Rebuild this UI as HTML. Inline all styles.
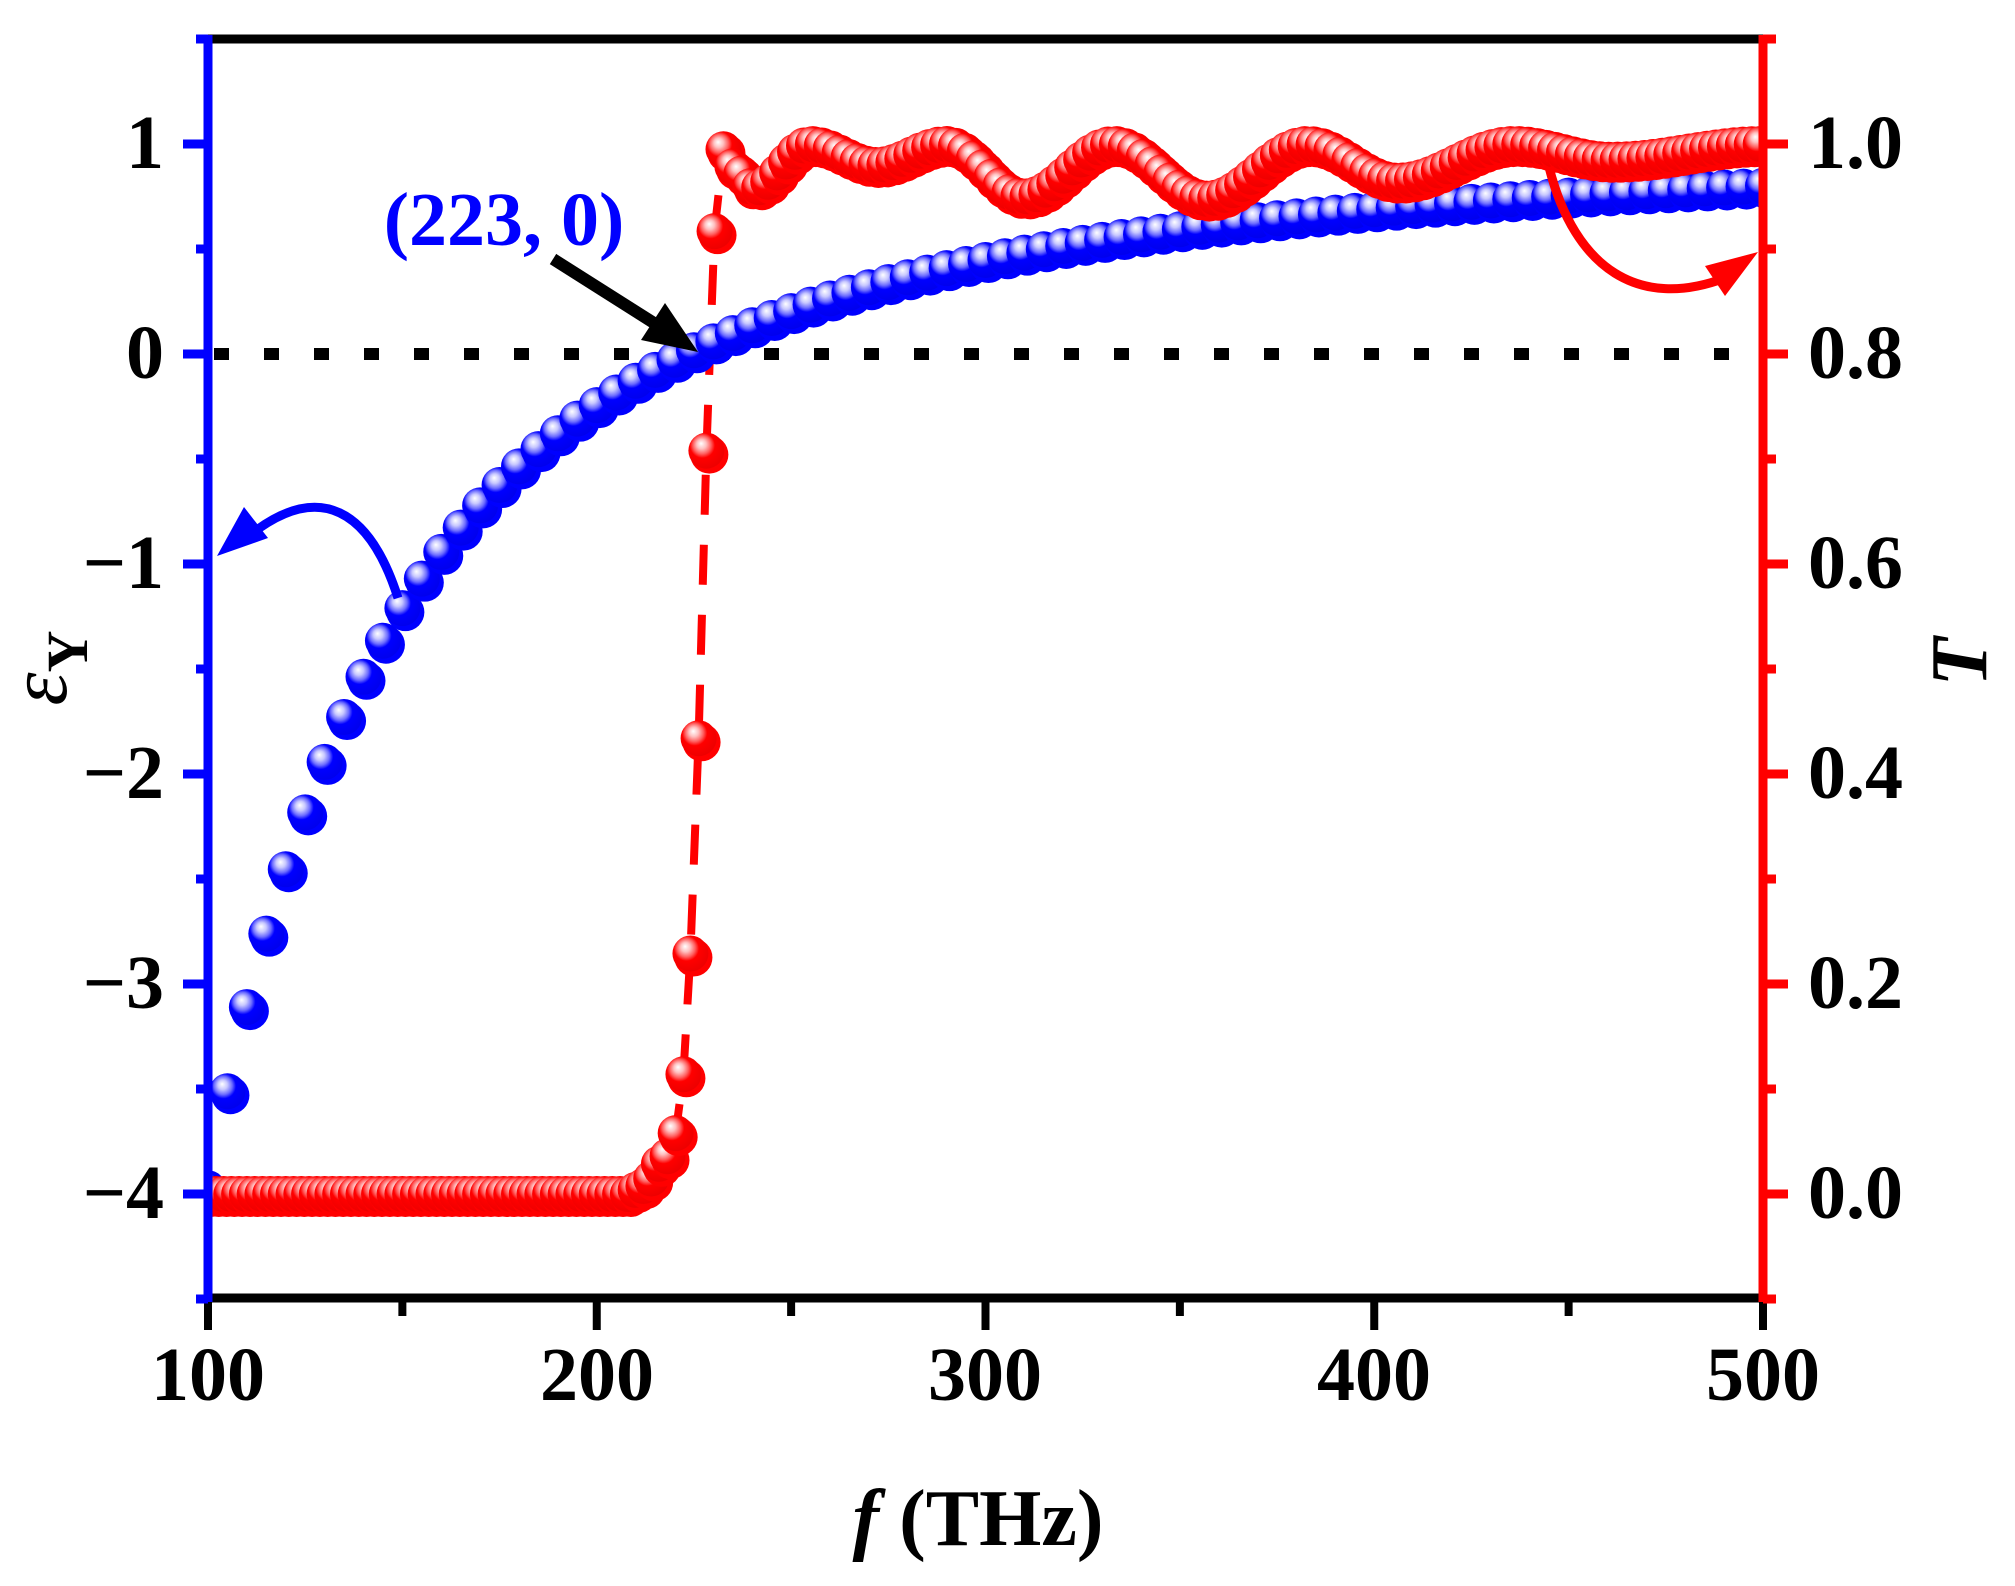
<!DOCTYPE html>
<html><head><meta charset="utf-8">
<style>
html,body{margin:0;padding:0;background:#fff;}
svg{display:block;}
svg text{font-family:"Liberation Serif","Times New Roman",serif;font-weight:bold;}
</style></head>
<body>
<svg id="s" xmlns="http://www.w3.org/2000/svg" width="2015" height="1586" viewBox="0 0 2015 1586" font-family="Liberation Serif, Times New Roman, serif">
<defs>
<radialGradient id="gb" cx="0.42" cy="0.4" r="0.6" fx="0.35" fy="0.3">
<stop offset="0" stop-color="#ffffff"/>
<stop offset="0.22" stop-color="#c8c8ff"/>
<stop offset="0.42" stop-color="#6c6cff"/>
<stop offset="0.58" stop-color="#0000ff"/>
<stop offset="1" stop-color="#0000ee"/>
</radialGradient>
<radialGradient id="gr" cx="0.42" cy="0.4" r="0.6" fx="0.35" fy="0.3">
<stop offset="0" stop-color="#ffffff"/>
<stop offset="0.22" stop-color="#ffc0c0"/>
<stop offset="0.42" stop-color="#ff6060"/>
<stop offset="0.58" stop-color="#ff0000"/>
<stop offset="1" stop-color="#ee0000"/>
</radialGradient>
<clipPath id="cp"><rect x="208" y="39" width="1555" height="1259"/></clipPath>
</defs>
<g id="plot" clip-path="url(#cp)"></g>
<g id="ann"></g>
<!-- axes -->
<line x1="204" y1="39" x2="1767" y2="39" stroke="#000" stroke-width="9"/>
<line x1="204" y1="1298" x2="1767" y2="1298" stroke="#000" stroke-width="9"/>
<line x1="208" y1="35" x2="208" y2="1302" stroke="#0000ff" stroke-width="9"/>
<line x1="1763" y1="35" x2="1763" y2="1302" stroke="#ff0000" stroke-width="9"/>
<g id="ticks"></g>
<g font-size="76">
<text x="208" y="1400" text-anchor="middle">100</text>
<text x="597" y="1400" text-anchor="middle">200</text>
<text x="985" y="1400" text-anchor="middle">300</text>
<text x="1374" y="1400" text-anchor="middle">400</text>
<text x="1763" y="1400" text-anchor="middle">500</text>
</g>
<g font-size="76" text-anchor="end">
<text x="164" y="168">1</text>
<text x="164" y="378">0</text>
<text x="164" y="588">−1</text>
<text x="164" y="798">−2</text>
<text x="164" y="1008">−3</text>
<text x="164" y="1218">−4</text>
</g>
<g font-size="76">
<text x="1808" y="168">1.0</text>
<text x="1808" y="378">0.8</text>
<text x="1808" y="588">0.6</text>
<text x="1808" y="798">0.4</text>
<text x="1808" y="1008">0.2</text>
<text x="1808" y="1218">0.0</text>
</g>
<text x="978" y="1545" font-size="80" text-anchor="middle"><tspan font-style="italic">f</tspan> (THz)</text>
<text transform="translate(66,668) rotate(-90)" font-size="84" text-anchor="middle"><tspan font-style="italic" font-weight="normal">ε</tspan><tspan font-size="58" dy="21">Y</tspan></text>
<text transform="translate(1986,662) rotate(-90)" font-size="80" font-style="italic" text-anchor="middle">T</text>
<text x="504" y="245" font-size="76" fill="#0000ff" text-anchor="middle">(223, 0)</text>
</svg>
<script>
var NS="http://www.w3.org/2000/svg";
var plot=document.getElementById("plot"),ticks=document.getElementById("ticks"),ann=document.getElementById("ann");
function el(p,n,a){var e=document.createElementNS(NS,n);for(var k in a)e.setAttribute(k,a[k]);p.appendChild(e);return e;}
function X(f){return 208+(f-100)*3.8875;}
function YE(e){return 354-e*210;}
function YT(t){return 354-(t-0.8)*1050;}
for(var i=0;i<=8;i++){var f=100+i*50,x=X(f);el(ticks,"line",{x1:x,y1:1302,x2:x,y2:(i%2?1316:1330),stroke:"#000","stroke-width":8});}
for(var i=0;i<=12;i++){var y=39+i*105;var maj=(i%2==1);
 el(ticks,"line",{x1:208,y1:y,x2:(maj?183:196),y2:y,stroke:"#0000ff","stroke-width":9});
 el(ticks,"line",{x1:1763,y1:y,x2:(maj?1788:1776),y2:y,stroke:"#ff0000","stroke-width":9});}
el(plot,"line",{x1:214,y1:354,x2:1757,y2:354,stroke:"#000","stroke-width":12,"stroke-dasharray":"15 35"});
var key=[[232.6,0.995],[235.2,0.978],[240.5,0.958],[255,1.0],[272,0.98],[290,1.0],[310,0.95],[333,1.0],[357,0.948],[383,1.0],[406,0.965],[436,1.0],[461,0.985],[500,1.0]];
function Tk(f){for(var i=0;i<key.length-1;i++){var a=key[i],b=key[i+1];if(f<=b[0]){var u=(f-a[0])/(b[0]-a[0]);u=(1-Math.cos(Math.PI*u))/2;return a[1]+(b[1]-a[1])*u;}}return 1;}
var rp=[];
for(var f=100;f<=216;f+=2){var t=f>208?0.002*Math.exp((f-208)/3):0;rp.push([f,t]);}
[[218.2,0.036],[220.3,0.058],[222.3,0.114],[224.1,0.229],[226.2,0.434],[228.2,0.708],[230.3,0.917]].forEach(function(p){rp.push(p);});
for(var f=232.6;f<=500.01;f+=2.3){rp.push([f,Tk(f)]);}
var d="";rp.forEach(function(p,i){d+=(i?"L":"M")+X(p[0]).toFixed(1)+","+YT(p[1]).toFixed(1);});
el(plot,"path",{d:d,fill:"none",stroke:"#ff0000","stroke-width":8,"stroke-dasharray":"40 30"});
for(var f=100;f<=500;f+=5){var e=1-223*223/(f*f);var cx=X(f),cy=YE(e);
 el(plot,"circle",{cx:cx+3,cy:cy+4,r:19,fill:"#0000ff"});
 el(plot,"circle",{cx:cx,cy:cy,r:18,fill:"url(#gb)"});}
rp.forEach(function(p){var cx=X(p[0]),cy=YT(p[1]);
 el(plot,"circle",{cx:cx+3,cy:cy+4,r:19,fill:"#ff0000"});
 el(plot,"circle",{cx:cx,cy:cy,r:18,fill:"url(#gr)"});});
el(ann,"line",{x1:553,y1:259,x2:665,y2:330,stroke:"#000","stroke-width":12});
el(ann,"polygon",{points:"698,352 641,340 665,303",fill:"#000"});
el(ann,"path",{d:"M398,598 C370,510 320,480 250,535",fill:"none",stroke:"#0000ff","stroke-width":9});
el(ann,"polygon",{points:"217,556 244,507 268,538",fill:"#0000ff"});
el(ann,"path",{d:"M1549,167 C1575,270 1640,310 1725,278",fill:"none",stroke:"#ff0000","stroke-width":9});
el(ann,"polygon",{points:"1758,252 1705,266 1725,296",fill:"#ff0000"});
</script>
</body></html>
